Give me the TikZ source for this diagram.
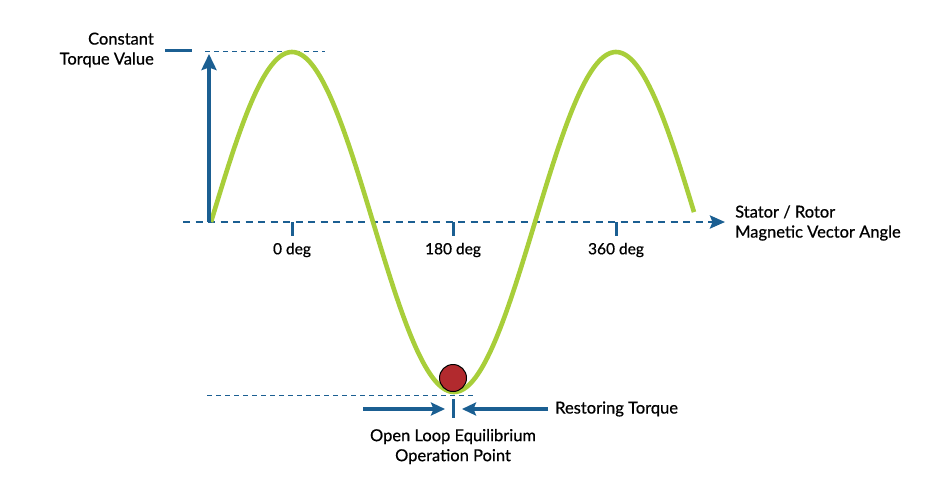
\documentclass[tikz,border=0pt]{standalone}
\usepackage{fontspec}
\setmainfont{Lato}[UprightFeatures={FakeBold=0.6}]
\usetikzlibrary{arrows.meta,calc}
\definecolor{axblue}{HTML}{1B5F92}
\definecolor{curvegreen}{HTML}{A8CE3A}
\definecolor{ballred}{HTML}{B22A2E}
\begin{document}
\begin{tikzpicture}[x=1pt,y=-1pt,
  axisline/.style={axblue,line width=2.9pt,dash pattern=on 7pt off 5.5pt},
  thindash/.style={axblue,line width=1pt,dash pattern=on 5pt off 4pt},
  tickline/.style={axblue,line width=3pt},
  arr/.style={axblue,line width=3.2pt,-{Stealth[length=14pt,width=13pt,inset=2.5pt]}},
  lbl/.style={font=\fontsize{16.5}{20}\selectfont,inner sep=0pt,align=left},
  ticklbl/.style={font=\fontsize{15.5}{18}\selectfont,inner sep=0pt}]
\useasboundingbox (0,0) rectangle (947,491);
% coordinates
\coordinate (axstart) at (183,222);
\coordinate (axend) at (725,222);
\coordinate (origin) at (209,222);
\coordinate (peak) at (209,54);
\coordinate (t0) at (292,222);
\coordinate (t180) at (453,222);
\coordinate (t360) at (616,222);
% reference dashed lines
\draw[thindash] (205,51) -- (325,51);
\draw[thindash] (207,395) -- (474,395);
\draw[axblue,line width=3pt] (165,50) -- (192,50);
% axis
\draw[axisline] (axstart) -- (712,222);
\draw[axblue,line width=2.9pt,-{Stealth[length=15pt,width=13pt,inset=2.5pt]}] (711,222) -- (axend);
% ticks
\foreach \p/\t in {t0/0 deg,t180/180 deg,t360/360 deg}{
  \draw[tickline] (\p) -- ++(0,14) coordinate (\p-end);
  \node[ticklbl] at ($(\p)+(0,28)$) {\t};
}
% curve
\draw[curvegreen,line width=4.6pt,line join=round] plot[domain=211:694,samples=240] (\x,{222-170*sin((\x-211)/324*360)});
% vertical arrow
\draw[axblue,line width=4pt,-{Stealth[length=16pt,width=15pt,inset=2.5pt]}] (origin) -- (peak);
% ball
\node[circle,draw=black,line width=1pt,fill=ballred,minimum size=27pt,inner sep=0pt] (ball) at (453,378) {};
% bottom tick and arrows
\coordinate (eqtop) at (453,399);
\coordinate (eqbot) at (453,418);
\draw[tickline] (eqtop) -- (eqbot);
\coordinate (la) at (363,409);
\coordinate (lb) at (445,409);
\coordinate (ra) at (548,409);
\coordinate (rb) at (462,409);
\draw[arr] (la) -- (lb);
\draw[arr] (ra) -- (rb);
% labels
\node[lbl,anchor=east,align=right] (ctv) at (154,50) {Constant\\Torque Value};
\node[lbl,anchor=west] (smv) at (735,223) {Stator / Rotor\\Magnetic Vector Angle};
\node[lbl,anchor=west] (rt) at (555,409) {Restoring Torque};
\node[lbl,align=center] (olep) at (453,446.5) {Open Loop Equilibrium\\Operation Point};
\end{tikzpicture}
\end{document}
